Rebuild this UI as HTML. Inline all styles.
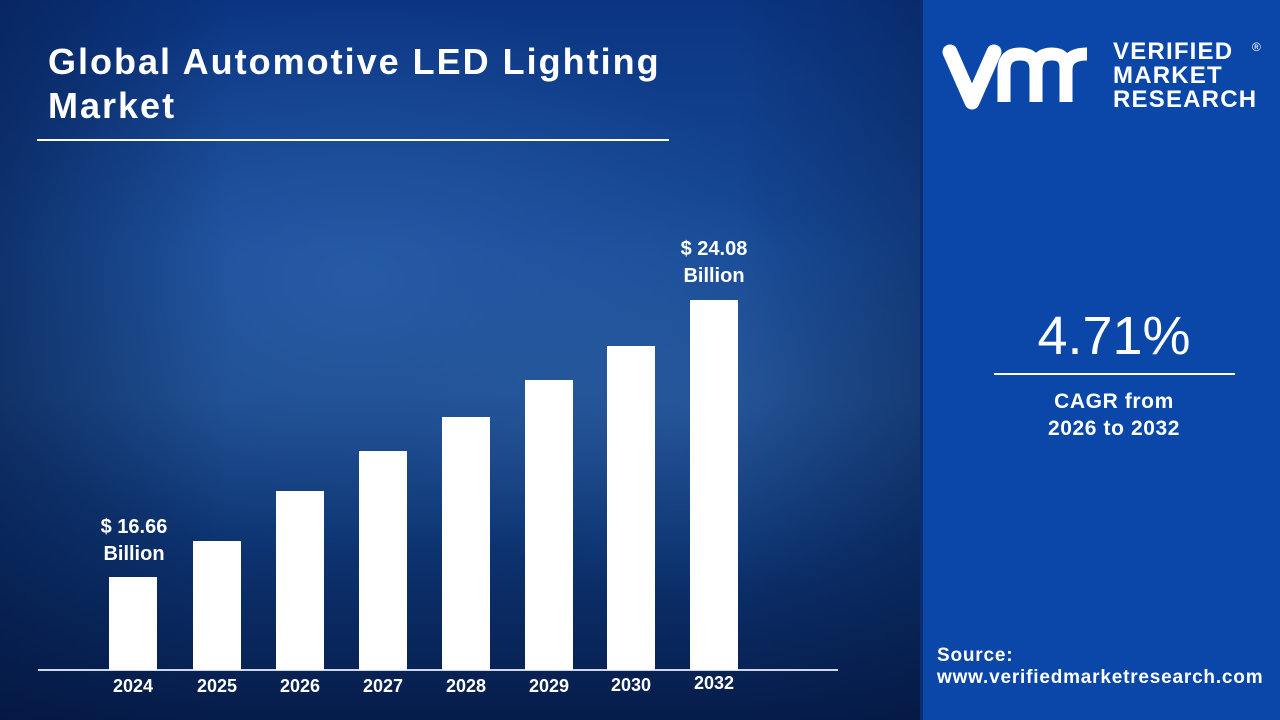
<!DOCTYPE html>
<html><head><meta charset="utf-8"><style>
*{margin:0;padding:0;box-sizing:border-box}
body{width:1280px;height:720px;overflow:hidden;position:relative;font-family:"Liberation Sans",sans-serif;color:#fff;background:#0a2a66}
#left{position:absolute;left:0;top:0;width:920px;height:720px;
background:
radial-gradient(ellipse 420px 280px at 360px 280px,rgba(60,115,190,0.4),rgba(60,115,190,0) 100%),
radial-gradient(ellipse 300px 200px at 700px 400px,rgba(70,120,190,0.25),rgba(70,120,190,0) 100%),
linear-gradient(180deg,#0b3582 0%,#174a96 35%,#1b4a8c 55%,#0d3472 75%,#061c4a 100%);}
#shade{position:absolute;left:0;top:0;width:920px;height:720px;background:linear-gradient(90deg,rgba(3,20,60,0.45),rgba(3,20,60,0) 25%,rgba(3,20,60,0) 80%,rgba(3,20,60,0.3))}
#right{position:absolute;left:920px;top:0;width:360px;height:720px;background:#0b47a8;border-left:3px solid #0a2f70}
.t{position:absolute;font-weight:bold}
.bar{position:absolute;background:#fff;width:48px}
.yr{position:absolute;top:676px;width:60px;text-align:center;font-weight:bold;font-size:18px}
</style></head><body>
<div id="left"></div><div id="shade"></div>
<div class="t" style="left:48px;top:40px;font-size:36px;line-height:44px;letter-spacing:2px">Global Automotive LED Lighting<br>Market</div>
<div style="position:absolute;left:37px;top:139px;width:632px;height:2px;background:#fff"></div>
<div style="position:absolute;left:38px;top:669px;width:800px;height:2px;background:#cfd8e8"></div>
<div class="bar" style="left:109px;top:577px;height:93px"></div>
<div class="bar" style="left:193px;top:541px;height:129px"></div>
<div class="bar" style="left:276px;top:491px;height:179px"></div>
<div class="bar" style="left:359px;top:451px;height:219px"></div>
<div class="bar" style="left:442px;top:417px;height:253px"></div>
<div class="bar" style="left:525px;top:380px;height:290px"></div>
<div class="bar" style="left:607px;top:346px;height:324px"></div>
<div class="bar" style="left:690px;top:300px;height:370px"></div>
<div class="yr" style="left:103px">2024</div>
<div class="yr" style="left:187px">2025</div>
<div class="yr" style="left:270px">2026</div>
<div class="yr" style="left:353px">2027</div>
<div class="yr" style="left:436px">2028</div>
<div class="yr" style="left:519px">2029</div>
<div class="yr" style="left:601px;top:675px">2030</div>
<div class="yr" style="left:684px;top:673px">2032</div>
<div class="t" style="left:84px;top:514px;width:100px;text-align:center;font-size:20px;line-height:27px">$ 16.66<br>Billion</div>
<div class="t" style="left:664px;top:236px;width:100px;text-align:center;font-size:20px;line-height:27px">$ 24.08<br>Billion</div>
<div id="right"></div>
<svg style="position:absolute;left:942px;top:40px" width="150" height="72" viewBox="0 0 150 72">
<path d="M8 12 L30 62 L52 12" fill="none" stroke="#fff" stroke-width="15" stroke-linecap="round" stroke-linejoin="round"/>
<path d="M62 62 V30 Q62 14 78 14 Q94 14 94 30 V62 M94 30 Q94 14 110 14 Q124 14 124 28 V62" fill="none" stroke="#fff" stroke-width="13"/>
<path d="M124 30 Q124 14 145 14" fill="none" stroke="#fff" stroke-width="13"/>
</svg>
<div class="t" style="left:1113px;top:40px;font-size:24px;line-height:24px;letter-spacing:1.2px;font-weight:bold">VERIFIED<br>MARKET<br>RESEARCH</div>
<div style="position:absolute;left:1252px;top:40px;font-size:12px">®</div>
<div style="position:absolute;left:994px;top:305px;width:240px;text-align:center;font-size:54px;line-height:62px">4.71%</div>
<div style="position:absolute;left:994px;top:373px;width:241px;height:2px;background:#fff"></div>
<div class="t" style="left:974px;top:388px;width:280px;text-align:center;font-size:21px;line-height:27px;letter-spacing:0.6px">CAGR from<br>2026 to 2032</div>
<div class="t" style="left:937px;top:645px;font-size:19px;line-height:22px;letter-spacing:0.8px">Source:<br>www.verifiedmarketresearch.com</div>
</body></html>
